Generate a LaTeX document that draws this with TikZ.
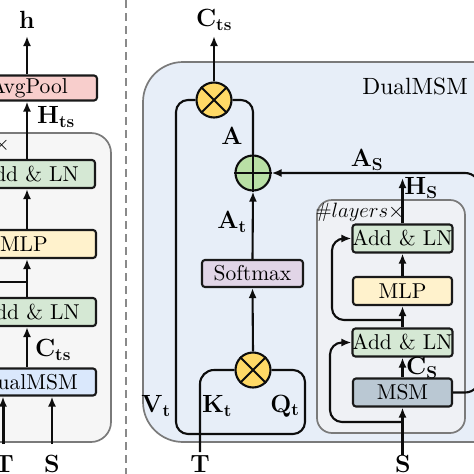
\documentclass[tikz,border=0pt]{standalone}
\usetikzlibrary{arrows.meta}
\definecolor{pinkf}{HTML}{F8CECC}
\definecolor{greenf}{HTML}{D5E8D4}
\definecolor{yellowf}{HTML}{FFF2CC}
\definecolor{bluef}{HTML}{DAE8FC}
\definecolor{purplef}{HTML}{E1D5E7}
\definecolor{msmf}{HTML}{BAC8D3}
\definecolor{otf}{HTML}{FFD966}
\definecolor{opf}{HTML}{B9E0A5}
\definecolor{bigf}{HTML}{E7EEF8}
\definecolor{innerf}{HTML}{EFF1F5}
\definecolor{leftf}{HTML}{F6F6F6}
\definecolor{contd}{HTML}{7A7A7A}
\definecolor{dashc}{HTML}{8A8A8A}
\font\boxfntraw="[lmroman10-regular]" at 21.5pt
\font\namefntraw="[lmroman10-regular]" at 23.5pt
\newcommand\boxfnt{\boxfntraw}
\newcommand\lblfnt{\fontsize{24}{28}\selectfont}
\begin{document}
\begin{tikzpicture}[x=1pt,y=-1pt,
  box/.style={draw=black!90, line width=2.1pt, rounded corners=3pt, minimum width=99pt, minimum height=28pt, inner sep=0pt, font=\boxfnt},
  btxt/.style={inner sep=0pt, font=\boxfnt, anchor=east},
  lbl/.style={inner sep=0pt, font=\lblfnt},
  conn/.style={line width=2.1pt, draw=black!95},
  arr/.style={conn, -{Latex[length=10pt,width=8pt]}},
  cont/.style={draw=contd, line width=1.7pt},
  opc/.style={circle, draw=black!95, line width=2.1pt, minimum size=35pt, inner sep=0pt}]
\useasboundingbox (0,0) rectangle (474,474);
\clip (0,0) rectangle (474,474);

% ---------------- left panel ----------------
\draw[cont, fill=leftf, rounded corners=20pt] (-60,133) rectangle (111,442);
\node[lbl, anchor=east, font=\fontsize{20}{24}\selectfont] (lay1) at (10,145) {$\#layers\times$};
\node[box, fill=pinkf, minimum width=140pt, minimum height=25pt] (avg) at (27,88) {};
\node[btxt] (avgT) at (68,88) {AvgPool};
\node[lbl] (h) at (27,20) {$\mathbf{h}$};
\node[box, fill=greenf, minimum width=136pt] (lA) at (27,174) {};
\node[btxt] (lAT) at (79,174) {Add \& LN};
\node[box, fill=yellowf, minimum width=138pt] (lM) at (27,244) {};
\node[btxt] (lMT) at (48,244) {MLP};
\node[box, fill=greenf, minimum width=138pt] (lB) at (27,312) {};
\node[btxt] (lBT) at (80,312) {Add \& LN};
\node[box, fill=bluef, minimum width=138pt, minimum height=27pt] (lD) at (27,382) {};
\node[btxt] (lDT) at (78,382) {DualMSM};
\coordinate (lT) at (3,444);
\coordinate (lS) at (52,444);
\coordinate (lR) at (-20,282);
\coordinate (lRe) at (27,282);
\node[lbl] (lTl) at (4,464) {$\mathbf{T}$};
\node[lbl] (lSl) at (52,464) {$\mathbf{S}$};
\node[lbl] (lHts) at (56,117) {$\mathbf{H}_{\mathbf{ts}}$};
\node[lbl] (lCts) at (53,350) {$\mathbf{C}_{\mathbf{ts}}$};
\coordinate (hb) at (27,36);
\draw[arr] (avg.north) -- (hb);
\draw[arr] (lA.north) -- (avg.south);
\draw[arr] (lM.north) -- (lA.south);
\draw[arr] (lB.north) -- (lM.south);
\draw[arr] (lD.north) -- (lB.south);
\draw[conn] (lR) -- (lRe);
\draw[arr, line width=3pt] (lT) -- (lT |- lD.south);
\draw[arr] (lS) -- (lS |- lD.south);

% separator
\coordinate (sepA) at (126,0);
\coordinate (sepB) at (126,474);
\draw[dashc, line width=2.5pt, dash pattern=on 8pt off 5pt] (sepA) -- (sepB);

% ---------------- right panel ----------------
\draw[cont, fill=bigf, rounded corners=40pt] (143,62) rectangle (540,442);
\node[font=\namefntraw, anchor=east, inner sep=0pt] (dname) at (468,86) {DualMSM};

\draw[cont, fill=innerf, rounded corners=15pt] (317,200) rectangle (465,433);
\node[lbl, font=\fontsize{20}{24}\selectfont] (lay2) at (360,212) {$\#layers\times$};

\node[box, fill=greenf] (addA) at (402.5,238.5) {Add \& LN};
\node[box, fill=yellowf] (mlpR) at (402.5,291) {MLP};
\node[box, fill=greenf] (addB) at (402.5,342.5) {Add \& LN};
\node[box, fill=msmf] (msm) at (402.5,392.5) {MSM};

\node[opc, fill=otf] (ot1) at (214,100) {};
\draw[conn] (ot1.north east) -- (ot1.south west) (ot1.north west) -- (ot1.south east);
\node[opc, fill=opf] (op) at (253,173) {};
\draw[conn] (op.north) -- (op.south) (op.west) -- (op.east);
\node[opc, fill=otf] (ot2) at (253,370) {};
\draw[conn] (ot2.north east) -- (ot2.south west) (ot2.north west) -- (ot2.south east);
\node[box, fill=purplef, minimum width=101pt, minimum height=27pt] (soft) at (252.5,273.5) {Softmax};

\node[lbl] (Cts) at (214,20) {$\mathbf{C}_{\mathbf{ts}}$};
\coordinate (ctsb) at (214,36);
\draw[arr] (ot1.north) -- (ctsb);

% A path: oplus up to ot1 right
\draw[conn, rounded corners=12pt] (op.north) -- (253,100) -- (ot1.east);
% V_t / Q_t loop
\draw[conn, rounded corners=12pt] (ot2.east) -- (305,370) -- (305,434) -- (176,434) -- (176,100) -- (ot1.west);
% K_t from T
\coordinate (T) at (200,452);
\draw[conn, rounded corners=14pt] (T) -- (200,370) -- (ot2.west);
\draw[arr] (ot2.north) -- (soft.south);
\draw[arr] (soft.north) -- (op.south);

% A_s from MSM
\draw[arr, rounded corners=15pt] (msm.east) -- (480,392.5) -- (480,173) -- (op.east);

% inner stack
\coordinate (S) at (402.5,455);
\coordinate (Hs) at (402.5,178);
\draw[arr] (S) -- (msm.south);
\draw[arr] (msm.north) -- (addB.south);
\draw[arr] (addB.north) -- (mlpR.south);
\draw[arr] (mlpR.north) -- (addA.south);
\draw[arr] (addA.north) -- (Hs);
\draw[arr, rounded corners=12pt] (402.5,320) -- (332,320) -- (332,238.5) -- (addA.west);
\draw[arr, rounded corners=12pt] (402.5,422) -- (330,422) -- (330,342.5) -- (addB.west);

% labels
\node[lbl] (Al) at (232,136) {$\mathbf{A}$};
\node[lbl] (Asl) at (367,160) {$\mathbf{A}_{\mathbf{S}}$};
\node[lbl] (Atl) at (232,222) {$\mathbf{A}_{\mathbf{t}}$};
\node[lbl] (Vtl) at (156,406) {$\mathbf{V}_{\mathbf{t}}$};
\node[lbl] (Ktl) at (217,406) {$\mathbf{K}_{\mathbf{t}}$};
\node[lbl] (Qtl) at (285,406) {$\mathbf{Q}_{\mathbf{t}}$};
\node[lbl] (Tl) at (200,464) {$\mathbf{T}$};
\node[lbl] (Sl) at (403,464) {$\mathbf{S}$};
\node[lbl] (Hsl) at (421,188) {$\mathbf{H}_{\mathbf{S}}$};
\node[lbl] (Csl) at (422,368) {$\mathbf{C}_{\mathbf{S}}$};
\end{tikzpicture}
\end{document}
